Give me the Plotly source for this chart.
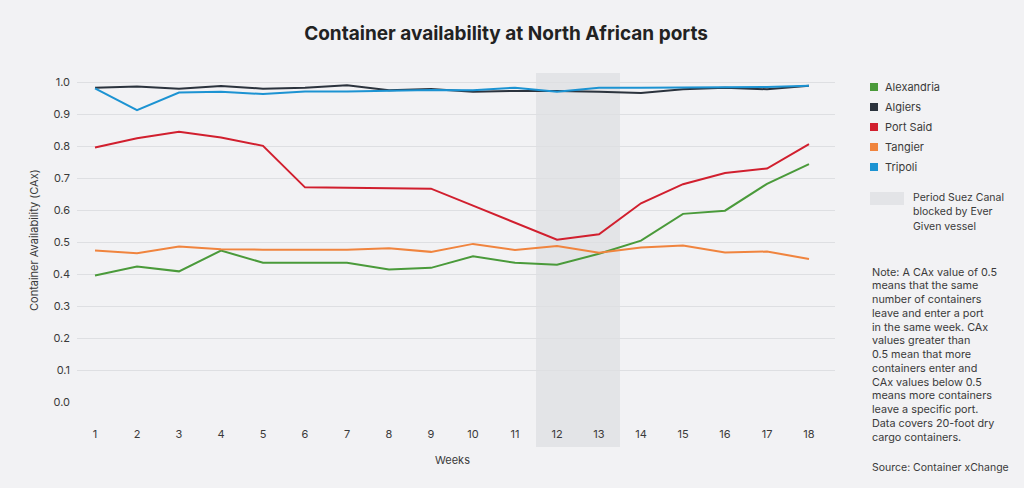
import plotly.graph_objects as go

weeks = list(range(1, 19))
alexandria = [0.396, 0.424, 0.409, 0.474, 0.436, 0.436, 0.436, 0.415, 0.420, 0.456,
              0.436, 0.430, 0.464, 0.505, 0.589, 0.599, 0.683, 0.745]
algiers = [0.984, 0.988, 0.981, 0.989, 0.981, 0.984, 0.992, 0.976, 0.980, 0.971,
           0.974, 0.974, 0.971, 0.967, 0.979, 0.984, 0.979, 0.990]
port_said = [0.797, 0.826, 0.846, 0.828, 0.802, 0.672, 0.671, 0.669, 0.668, 0.615,
             0.561, 0.508, 0.525, 0.622, 0.682, 0.717, 0.731, 0.807]
tangier = [0.474, 0.466, 0.487, 0.478, 0.477, 0.477, 0.477, 0.481, 0.470, 0.495,
           0.476, 0.488, 0.467, 0.484, 0.490, 0.468, 0.471, 0.448]
tripoli = [0.982, 0.914, 0.969, 0.971, 0.964, 0.972, 0.972, 0.975, 0.977, 0.976,
           0.984, 0.971, 0.984, 0.984, 0.984, 0.986, 0.986, 0.990]

series_names = ["Alexandria", "Algiers", "Port Said", "Tangier", "Tripoli"]
series_values = [alexandria, algiers, port_said, tangier, tripoli]
series_colors = ["#4a9a3a", "#2b333d", "#d11f2e", "#f0843e", "#1c93d2"]

blocked_weeks = [11.5, 13.5]
y_ticks = [i / 10 for i in range(0, 11)]

note_lines = [
    "Note: A CAx value of 0.5",
    "means that the same",
    "number of containers",
    "leave and enter a port",
    "in the same week. CAx",
    "values greater than",
    "0.5 mean that more",
    "containers enter and",
    "CAx values below 0.5",
    "means more containers",
    "leave a specific port.",
    "Data covers 20-foot dry",
    "cargo containers.",
]
blocked_label = ["Period Suez Canal", "blocked by Ever", "Given vessel"]

W, H = 1024, 488
L, R, T, B = 77, 189, 73, 86
pw, ph = W - L - R, H - T - B
BG = "#f2f2f4"
FONT = "Inter, Roboto, Liberation Sans, sans-serif"
TXT = "#3a3a3a"


def px(x):
    return (x - L) / pw


def py(y):
    return (H - B - y) / ph


fig = go.Figure()

# Shaded blocked period
fig.add_shape(type="rect", xref="x", yref="paper",
              x0=blocked_weeks[0], x1=blocked_weeks[1], y0=py(447), y1=1.0,
              fillcolor="#e3e4e7", line_width=0, layer="below")

for name, vals, col in zip(series_names, series_values, series_colors):
    fig.add_trace(go.Scatter(x=weeks, y=vals, mode="lines", name=name,
                             line=dict(color=col, width=2), showlegend=False))

annotations = []
# Legend
for i, (name, col) in enumerate(zip(series_names, series_colors)):
    yc = 87 + i * 20
    fig.add_shape(type="rect", xref="paper", yref="paper",
                  x0=px(870), x1=px(878), y0=py(yc + 4), y1=py(yc - 4),
                  fillcolor=col, line_width=0)
    annotations.append(dict(x=px(883), y=py(yc), xref="paper", yref="paper",
                            text=name, showarrow=False, xanchor="left", yanchor="middle",
                            font=dict(size=11, color=TXT, family=FONT)))

fig.add_shape(type="rect", xref="paper", yref="paper",
              x0=px(870), x1=px(904), y0=py(205), y1=py(192),
              fillcolor="#e3e4e7", line_width=0)
for j, line in enumerate(blocked_label):
    annotations.append(dict(x=px(911), y=py(197 + j * 14.5), xref="paper", yref="paper",
                            text=line, showarrow=False, xanchor="left", yanchor="middle",
                            font=dict(size=10.5, color=TXT, family=FONT)))

for j, line in enumerate(note_lines):
    annotations.append(dict(x=px(870), y=py(272 + j * 13.75), xref="paper", yref="paper",
                            text=line, showarrow=False, xanchor="left", yanchor="middle",
                            font=dict(size=10.8, color=TXT, family=FONT)))

annotations.append(dict(x=px(870), y=py(467), xref="paper", yref="paper",
                        text="Source: Container xChange", showarrow=False,
                        xanchor="left", yanchor="middle",
                        font=dict(size=10.5, color=TXT, family=FONT)))

# Axis titles
annotations.append(dict(x=px(452), y=py(460), xref="paper", yref="paper",
                        text="Weeks", showarrow=False, xanchor="center", yanchor="middle",
                        font=dict(size=11, color=TXT, family=FONT)))
annotations.append(dict(x=px(34), y=py(240), xref="paper", yref="paper",
                        text="Container Availability (CAx)", showarrow=False, textangle=-90,
                        xanchor="center", yanchor="middle",
                        font=dict(size=11, color=TXT, family=FONT)))

fig.update_layout(
    width=W, height=H,
    margin=dict(l=L, r=R, t=T, b=B),
    paper_bgcolor=BG, plot_bgcolor=BG,
    title=dict(text="<b>Container availability at North African ports</b>",
               x=506 / W, xanchor="center", y=1 - 33 / H, yanchor="middle",
               font=dict(size=19, color="#222222", family=FONT)),
    annotations=annotations,
    xaxis=dict(range=[1 - 18 / 42, 18 + 26 / 42], tickmode="array", tickvals=weeks,
               ticktext=[str(w) for w in weeks], showgrid=False, zeroline=False,
               showline=False, ticks="", ticklabelstandoff=24,
               tickfont=dict(size=11, color=TXT, family=FONT)),
    yaxis=dict(range=[0, 1.03], tickmode="array", tickvals=y_ticks,
               ticktext=[f"{v:.1f}" for v in y_ticks], showgrid=True,
               gridcolor="#dedfe2", gridwidth=1.2, zeroline=False, showline=False,
               ticks="", ticklabelstandoff=6,
               tickfont=dict(size=11, color=TXT, family=FONT)),
    showlegend=False,
)

fig.write_html("out.html")
